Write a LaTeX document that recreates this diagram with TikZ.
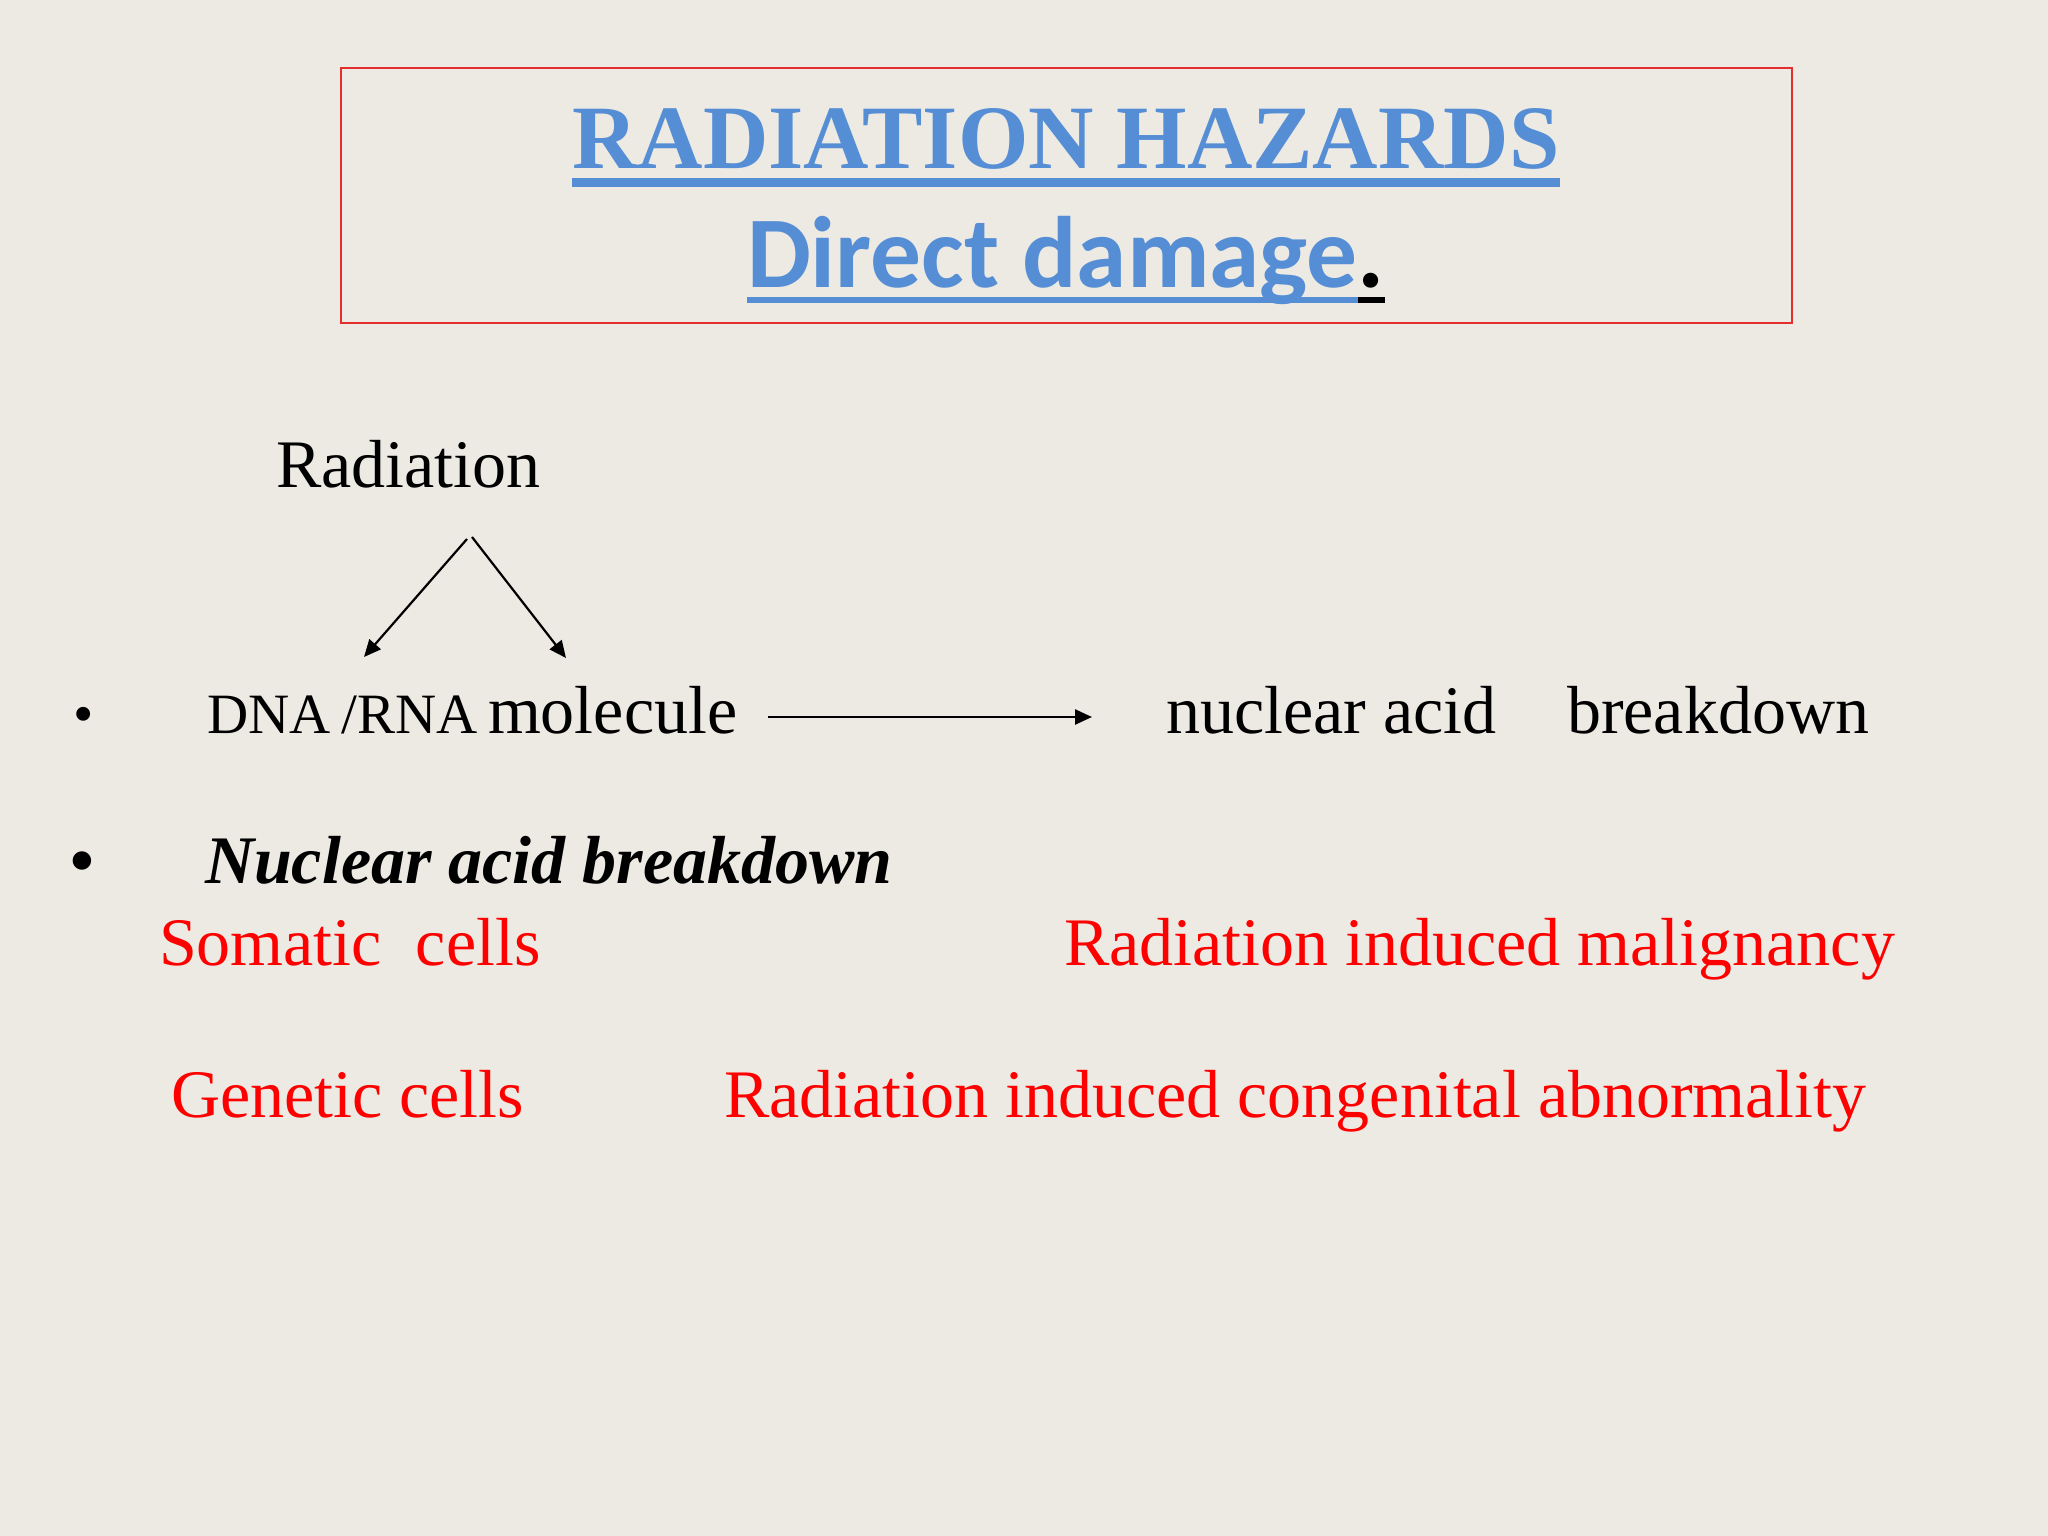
\documentclass[tikz,border=0pt]{standalone}
\usepackage{fontspec}
\setmainfont{Liberation Serif}
\newfontfamily\carl{Carlito}
\usetikzlibrary{arrows.meta}
\definecolor{bg}{RGB}{237,234,228}
\definecolor{tblue}{RGB}{85,142,213}
\definecolor{boxred}{RGB}{228,45,45}
\definecolor{txtred}{RGB}{255,0,0}
\begin{document}
\begin{tikzpicture}[x=1pt,y=-1pt,
  lbl/.style={inner sep=0pt, outer sep=0pt, anchor=base west, font=\fontsize{68}{80}\selectfont},
  redlbl/.style={lbl, text=txtred},
  arr/.style={-{Triangle[length=17pt,width=15pt]}, line width=2.5pt, black}
]
\fill[bg] (0,0) rectangle (2048,1536);
\useasboundingbox (0,0) rectangle (2048,1536);
% title box
\draw[boxred, line width=2pt] (341,68) rectangle (1792,323);
\node[lbl, anchor=base, text=tblue, font=\fontsize{90.6}{100}\selectfont\bfseries] (t1) at (1066,168) {RADIATION HAZARDS};
\fill[tblue] ([yshift=-10]t1.base west) rectangle ([yshift=-19]t1.base east);
\node[lbl, text=tblue, font=\fontsize{101.5}{110}\selectfont\carl\bfseries] (t2) at (747,287) {Direct damage};
\node[lbl, text=black, font=\fontsize{101.5}{110}\selectfont\carl\bfseries] (t2p) at (t2.base east) {.};
\fill[tblue] ([yshift=-10]t2.base west) rectangle ([yshift=-16]t2.base east);
\fill[black] ([yshift=-10]t2p.base west) rectangle ([yshift=-16]t2p.base east);
% diagram
\node[lbl] (rad) at (276,487) {Radiation};
\node[lbl, font=\fontsize{58}{68}\selectfont] (b1) at (73,733) {•};
\node[lbl, font=\fontsize{57}{68}\selectfont] (dna) at (207,733) {DNA\hspace{-3pt} /RNA};
\node[lbl] (mol) at (488,733) {molecule};
\node[lbl] (nuc) at (1166,733) {nuclear acid};
\node[lbl] (brk) at (1567,733) {breakdown};
\coordinate (s1) at (467,539);
\coordinate (e1) at (364,657);
\coordinate (s2) at (472,537);
\coordinate (e2) at (566,658);
\coordinate (s3) at (768,717);
\coordinate (e3) at (1092,717);
\draw[arr, line width=2.2pt] (s1) -- (e1);
\draw[arr, line width=2.2pt] (s2) -- (e2);
\draw[arr] (s3) -- (e3);
\node[lbl, font=\fontsize{68}{80}\selectfont\bfseries] (b2) at (70,883) {•};
\node[lbl, font=\fontsize{68}{80}\selectfont\bfseries\itshape] (nab) at (205,883) {Nuclear acid breakdown};
\node[redlbl] (som) at (159,965) {Somatic\ \ cells};
\node[redlbl] (mal) at (1064,965) {Radiation induced malignancy};
\node[redlbl] (gen) at (171,1117) {Genetic cells};
\node[redlbl] (con) at (724,1117) {Radiation induced congenital abnormality};
\end{tikzpicture}
\end{document}
